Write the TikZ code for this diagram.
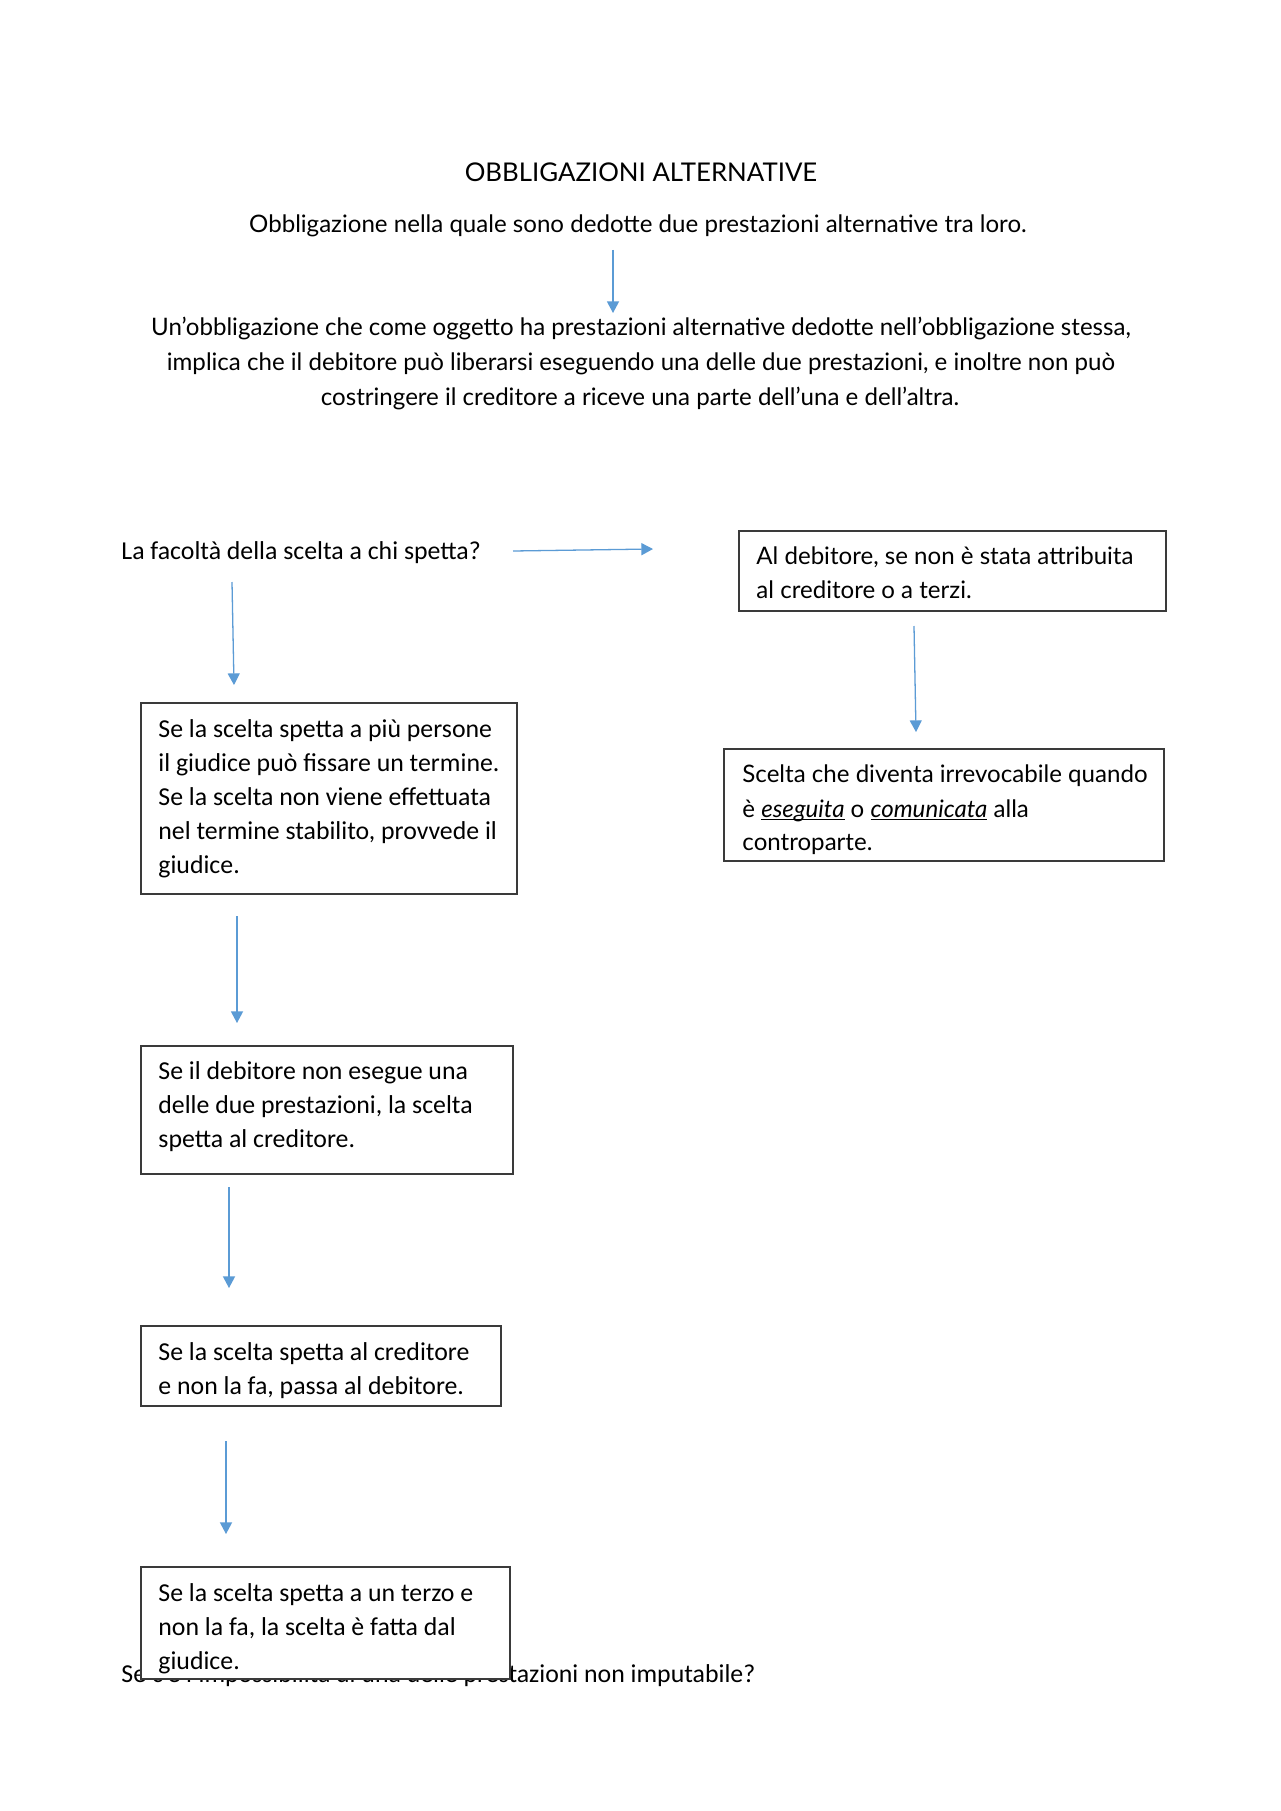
\documentclass[tikz,border=0pt]{standalone}
\usepackage{fontspec}
\setmainfont{Carlito}
\newfontfamily\lato{Lato}
\usetikzlibrary{arrows.meta,fit}
\definecolor{arrowblue}{HTML}{5B9BD5}
\definecolor{boxline}{HTML}{3A3A3A}
\newcommand\ulx[1]{\setbox0\hbox{#1}\rlap{\rule[-1.3pt]{\wd0}{0.45pt}}\box0\relax}
\tikzset{
  conn/.style={draw=arrowblue, line width=0.6pt, -{Triangle[width=5.6pt,length=5.4pt]}},
  box/.style={draw=boxline, line width=0.6pt, fill=white, inner sep=0pt},
  ln/.style={anchor=base west, inner sep=0pt, font=\fontsize{12pt}{14pt}\selectfont},
  lnl/.style={anchor=base west, inner sep=0pt, font=\lato\fontsize{11.2pt}{13pt}\selectfont},
  ctr/.style={anchor=base, inner sep=0pt, font=\lato\fontsize{11.2pt}{13pt}\selectfont},
}
\begin{document}
\begin{tikzpicture}[x=0.46506pt,y=-0.46506pt]
\useasboundingbox[fill=white] (0,0) rectangle (1280,1811);

% top texts
\node[ctr, font=\lato\fontsize{12pt}{14pt}\selectfont] (title) at (641,182) {OBBLIGAZIONI ALTERNATIVE};
\node[ctr] (def) at (638,233) {Obbligazione nella quale sono dedotte due prestazioni alternative tra loro.};
\node[ctr] (p1) at (641,335) {Un’obbligazione che come oggetto ha prestazioni alternative dedotte nell’obbligazione stessa,};
\node[ctr] (p2) at (641,370) {implica che il debitore può liberarsi eseguendo una delle due prestazioni, e inoltre non può};
\node[ctr] (p3) at (640,405) {costringere il creditore a riceve una parte dell’una e dell’altra.};

\coordinate (a0s) at (613,250); \coordinate (a0e) at (613,313);
\draw[conn] (a0s) -- (a0e);

% question
\node[ln] (q) at (121,559) {La facoltà della scelta a chi spetta?};
\coordinate (a1s) at (513,551); \coordinate (a1e) at (653,549);
\draw[conn] (a1s) -- (a1e);
\coordinate (a2s) at (232,582); \coordinate (a2e) at (234,685);
\draw[conn] (a2s) -- (a2e);

% right column
\node[box, fit={(739,531) (1166,611)}] (r1) {};
\node[lnl] (r1a) at (756,564) {Al debitore, se non è stata attribuita};
\node[lnl] (r1b) at (756,598) {al creditore o a terzi.};
\coordinate (a6s) at (914,626); \coordinate (a6e) at (916,732);
\draw[conn] (a6s) -- (a6e);
\node[box, fit={(724,749) (1164,861)}] (r2) {};
\node[lnl] (r2a) at (742,782) {Scelta che diventa irrevocabile quando};
\node[lnl] (r2b) at (742,817) {è \ulx{\textit{eseguita}} o \ulx{\textit{comunicata}} alla};
\node[lnl] (r2c) at (742,850) {controparte.};

% left column
\node[box, fit={(141,703) (517,894)}] (b1) {};
\node[ln] (b1a) at (158,737) {Se la scelta spetta a più persone};
\node[ln] (b1b) at (158,771) {il giudice può fissare un termine.};
\node[ln] (b1c) at (158,805) {Se la scelta non viene effettuata};
\node[ln] (b1d) at (158,839) {nel termine stabilito, provvede il};
\node[ln] (b1e) at (158,873) {giudice.};
\coordinate (a3s) at (237,916); \coordinate (a3e) at (237,1023);
\draw[conn] (a3s) -- (a3e);

\node[box, fit={(141,1046) (513,1174)}] (b2) {};
\node[ln] (b2a) at (158,1079) {Se il debitore non esegue una};
\node[ln] (b2b) at (158,1113) {delle due prestazioni, la scelta};
\node[ln] (b2c) at (158,1147) {spetta al creditore.};
\coordinate (a4s) at (229,1187); \coordinate (a4e) at (229,1288);
\draw[conn] (a4s) -- (a4e);

\node[box, fit={(141,1326) (501,1406)}] (b3) {};
\node[ln] (b3a) at (158,1360) {Se la scelta spetta al creditore};
\node[ln] (b3b) at (158,1394) {e non la fa, passa al debitore.};
\coordinate (a5s) at (226,1441); \coordinate (a5e) at (226,1534);
\draw[conn] (a5s) -- (a5e);

% bottom question, partly covered by the last box
\node[ln] (q2) at (121,1682) {Se c’è l’impossibilità di una delle prestazioni non imputabile?};
\node[box, fit={(141,1567) (510,1679)}] (b4) {};
\node[ln] (b4a) at (158,1601) {Se la scelta spetta a un terzo e};
\node[ln] (b4b) at (158,1635) {non la fa, la scelta è fatta dal};
\node[ln] (b4c) at (158,1669) {giudice.};
\end{tikzpicture}
\end{document}
